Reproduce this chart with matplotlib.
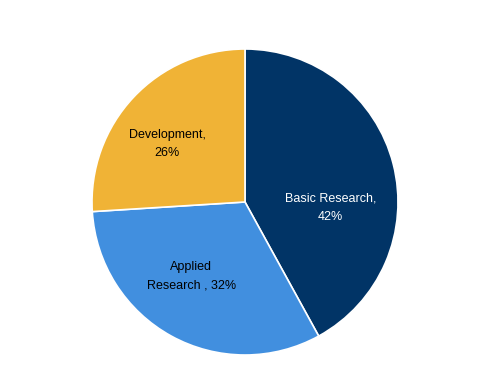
import matplotlib
matplotlib.use("Agg")
import matplotlib.pyplot as plt

# Share of spending by research type
categories = ["Basic Research", "Applied\nResearch ", "Development"]
shares = [42, 32, 26]
colors = ["#013466", "#418FDF", "#F0B336"]
text_colors = ["white", "black", "black"]
# label anchor spots inside each wedge (pie data coords)
label_xy = [(0.56, -0.036), (-0.35, -0.487), (-0.51, 0.38)]

fig = plt.figure(figsize=(4.9, 3.84), dpi=100)
ax = fig.add_axes([92 / 490, 29 / 384, 306 / 490, 306 / 384])

wedges, _ = ax.pie(shares, colors=colors, startangle=90, counterclock=False,
                   radius=1.0,
                   wedgeprops=dict(edgecolor="white", linewidth=1.2))

for cat, val, tc, (x, y) in zip(categories, shares, text_colors, label_xy):
    if "\n" in cat:
        txt = cat + ", " + str(val) + "%"
    else:
        txt = cat + ",\n" + str(val) + "%"
    ax.text(x, y, txt, ha="center", va="center", color=tc,
            fontsize=9, family="Liberation Sans", linespacing=1.7)

ax.set_xlim(-1, 1)
ax.set_ylim(-1, 1)
ax.set_aspect("equal")
ax.axis("off")

fig.savefig("out.png", dpi=100)
